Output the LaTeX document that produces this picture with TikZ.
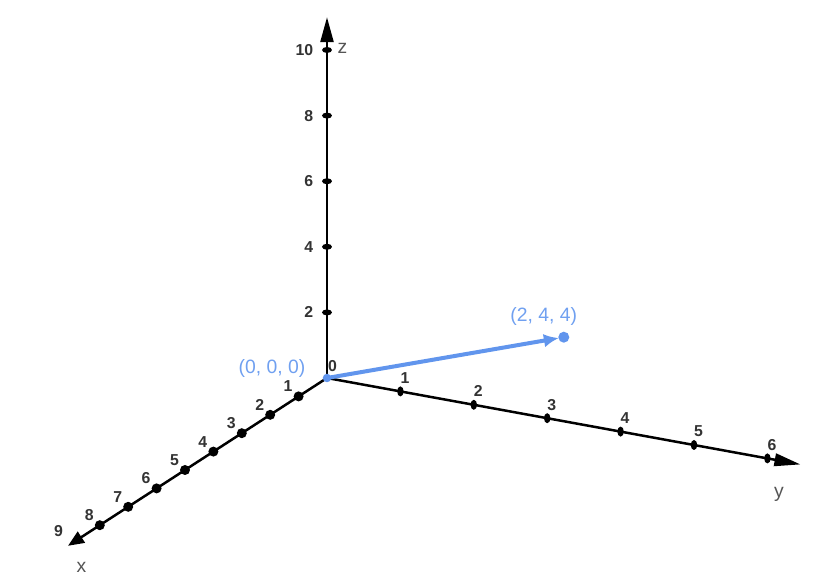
\documentclass[tikz,border=0pt]{standalone}
\usepackage{fontspec}
\setmainfont{Liberation Sans}
\usetikzlibrary{arrows.meta}
\definecolor{vecblue}{RGB}{97,149,237}
\definecolor{labelblue}{RGB}{112,160,240}
\definecolor{ticktext}{RGB}{51,51,51}
\definecolor{axistext}{RGB}{85,85,85}
\tikzset{
	axis/.style={line width=0.05cm},
	ticklabel/.style={font=\fontsize{9}{10}\selectfont\bfseries, text=ticktext, inner sep=0pt},
	axislabel/.style={font=\fontsize{11}{13}\selectfont, text=axistext, inner sep=0pt},
	pointlabel/.style={font=\fontsize{11}{13}\selectfont, text=labelblue, inner sep=0pt},
}
\begin{document}
\begin{tikzpicture}[x={(-0.568cm,-0.368cm)}, y={(1.468cm,-0.268cm)}, z={(0cm,0.656cm)}]
			\useasboundingbox (-6.54cm,-4.16cm) rectangle (9.76cm,7.56cm);
			\coordinate (O) at (0,0,0);
			\coordinate (X) at (9.12,0,0);
			\coordinate (Y) at (0,6.45,0);
			\coordinate (Z) at (0,0,11);
			\coordinate (P) at (2,4,4);
			% axes
			\draw[axis, -{Triangle[length=0.32cm, width=0.26cm]}] (O)--(X);
			\draw[axis, -{Triangle[length=0.52cm, width=0.25cm]}] (O)--(Y);
			\draw[axis, -{Triangle[length=0.5cm, width=0.26cm]}] (O)--(Z);
			% ticks
			\foreach \i in {1,...,8} {
				\fill (\i,0,0) circle (0.1cm);
				\node[ticklabel] (x\i) at ([shift={(-0.21cm,0.2cm)}]\i,0,0) {\i};
			}
			\node[ticklabel] (x9) at ([shift={(-0.26cm,0.25cm)}]9,0,0) {9};
			\foreach \i in {1,...,6} {
				\fill (0,\i,0) ellipse [x radius=0.065cm, y radius=0.1cm];
				\node[ticklabel] (y\i) at ([shift={(0.09cm,0.27cm)}]0,\i,0) {\i};
			}
			\foreach \i in {2,4,...,10} {
				\fill (0,0,\i) ellipse [x radius=0.1cm, y radius=0.06cm];
				\node[ticklabel, anchor=east] (z\i) at ([shift={(-0.27cm,0cm)}]0,0,\i) {\i};
			}
			\node[ticklabel] (zero) at ([shift={(0.11cm,0.23cm)}]O) {0};
			\node[axislabel] (xlab) at ([shift={(0.27cm,-0.44cm)}]X) {x};
			\node[axislabel] (ylab) at ([shift={(-0.43cm,-0.59cm)}]Y) {y};
			\node[axislabel] (zlab) at ([shift={(0.31cm,0.03cm)}]0,0,10) {z};
			% vector
			\draw[vecblue, line width=0.08cm, -{Latex[length=0.3cm, width=0.27cm]}, shorten >=0.1cm] (O)--(P);
			\fill[vecblue] (O) circle (0.085cm);
			\fill[vecblue] (P) circle (0.11cm);
			\node[pointlabel] (Olab) at ([shift={(-1.1cm,0.19cm)}]O) {(0, 0, 0)};
			\node[pointlabel] (Plab) at ([shift={(-0.4cm,0.41cm)}]P) {(2, 4, 4)};
		\end{tikzpicture}
\end{document}
